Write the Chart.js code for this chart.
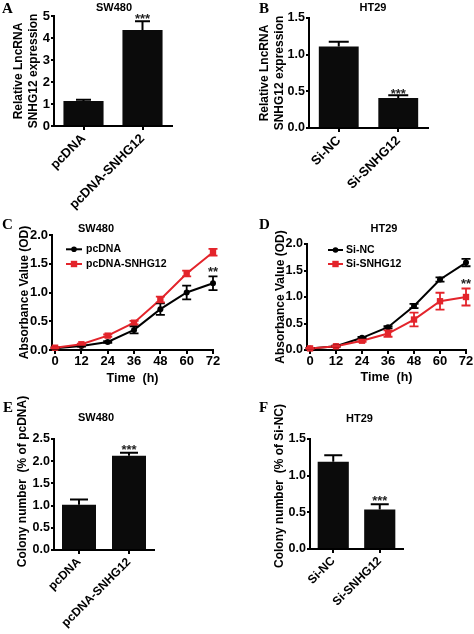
<!DOCTYPE html>
<html><head><meta charset="utf-8">
<script src="https://cdn.jsdelivr.net/npm/chart.js@4.4.0/dist/chart.umd.min.js"></script>
<style>
html,body{margin:0;padding:0;background:#fff;width:474px;height:634px;overflow:hidden;}
canvas{position:absolute;}
</style></head><body>
<canvas id="cA" width="237" height="215" style="left:0;top:0"></canvas>
<canvas id="cB" width="237" height="215" style="left:237px;top:0"></canvas>
<canvas id="cC" width="237" height="180" style="left:0;top:215px"></canvas>
<canvas id="cD" width="237" height="180" style="left:237px;top:215px"></canvas>
<canvas id="cE" width="237" height="239" style="left:0;top:395px"></canvas>
<canvas id="cF" width="237" height="239" style="left:237px;top:395px"></canvas>
<script>
// ---------- data ----------
const catsPc = ['pcDNA', 'pcDNA-SNHG12'];
const catsSi = ['Si-NC', 'Si-SNHG12'];
const exprSW480 = [1.14, 4.36];
const exprSW480Err = [0.05, 0.40];
const exprHT29 = [1.11, 0.41];
const exprHT29Err = [0.065, 0.035];
const timeTicks = [0, 12, 24, 36, 48, 60, 72];
const odPcDNA = [0.03, 0.07, 0.14, 0.35, 0.71, 1.00, 1.16];
const odPcDNAErr = [0.01, 0.01, 0.015, 0.06, 0.10, 0.12, 0.12];
const odPcSNHG = [0.04, 0.10, 0.25, 0.475, 0.88, 1.33, 1.70];
const odPcSNHGErr = [0.01, 0.01, 0.02, 0.03, 0.05, 0.05, 0.06];
const odSiNC = [0.03, 0.07, 0.23, 0.43, 0.83, 1.33, 1.65];
const odSiNCErr = [0.01, 0.01, 0.015, 0.02, 0.04, 0.04, 0.07];
const odSiSNHG = [0.03, 0.07, 0.175, 0.31, 0.575, 0.92, 1.00];
const odSiSNHGErr = [0.01, 0.01, 0.02, 0.06, 0.13, 0.16, 0.16];
const colonySW480 = [1.02, 2.12];
const colonySW480Err = [0.12, 0.07];
const colonyHT29 = [1.19, 0.54];
const colonyHT29Err = [0.09, 0.07];

// ---------- helpers ----------
const FONT = "'Liberation Sans', Arial, Helvetica, sans-serif";
const SERIF = "'Liberation Serif', 'Times New Roman', serif";
const RED = '#e3242b';
Chart.defaults.font.family = FONT;
Chart.defaults.color = '#000';

function valOf(raw) { return (raw !== null && typeof raw === 'object') ? raw.y : raw; }

const errorBarPlugin = {
  id: 'errorBars',
  afterDatasetsDraw(chart) {
    const ctx = chart.ctx, ys = chart.scales.y;
    chart.data.datasets.forEach((ds, i) => {
      if (!ds.errorBars) return;
      const meta = chart.getDatasetMeta(i);
      ctx.save();
      ctx.strokeStyle = ds.errorColor || '#000';
      ctx.lineWidth = ds.errorWidth || 2;
      meta.data.forEach((el, j) => {
        const v = valOf(ds.data[j]);
        const e = ds.errorBars[j];
        const x = el.x;
        const yt = ys.getPixelForValue(v + e);
        const yb = ds.errorUpOnly ? ys.getPixelForValue(v) : ys.getPixelForValue(v - e);
        const c = ds.capHalf || 4;
        ctx.beginPath();
        ctx.moveTo(x, yb); ctx.lineTo(x, yt);
        ctx.moveTo(x - c, yt); ctx.lineTo(x + c, yt);
        if (!ds.errorUpOnly) { ctx.moveTo(x - c, yb); ctx.lineTo(x + c, yb); }
        ctx.stroke();
      });
      ctx.restore();
    });
  }
};

function makeDecor(d) {
  return {
    id: 'decor',
    afterDraw(chart) {
      const ctx = chart.ctx;
      ctx.save();
      ctx.fillStyle = '#000';
      // panel letter
      ctx.font = `bold 15px ${SERIF}`;
      ctx.textAlign = 'left'; ctx.textBaseline = 'alphabetic';
      ctx.fillText(d.letter, d.letterX, d.letterY);
      // panel title
      ctx.font = `bold ${d.titleSize}px ${FONT}`;
      ctx.textAlign = 'center'; ctx.textBaseline = 'middle';
      ctx.fillText(d.title, d.titleX, d.titleY);
      // significance stars
      if (d.stars) {
        const s = d.stars;
        const ds = chart.data.datasets[s.ds];
        const el = chart.getDatasetMeta(s.ds).data[s.idx];
        const top = chart.scales.y.getPixelForValue(valOf(ds.data[s.idx]) + ds.errorBars[s.idx]);
        ctx.font = `bold ${s.size}px ${FONT}`;
        ctx.fillStyle = '#222';
        ctx.textAlign = 'center'; ctx.textBaseline = 'alphabetic';
        ctx.fillText(s.text, el.x, top - s.gap + 0.58 * s.size);
        ctx.fillStyle = '#000';
      }
      // legend
      if (d.legend) {
        const L = d.legend;
        chart.data.datasets.forEach((ds, i) => {
          const y = L.rows[i];
          ctx.strokeStyle = ds.borderColor; ctx.lineWidth = 2;
          ctx.beginPath(); ctx.moveTo(L.x1, y); ctx.lineTo(L.x2, y); ctx.stroke();
          const mx = (L.x1 + L.x2) / 2;
          ctx.fillStyle = ds.borderColor;
          if (ds.pointStyle === 'rect') { ctx.fillRect(mx - 3.2, y - 3.2, 6.4, 6.4); }
          else { ctx.beginPath(); ctx.arc(mx, y, 2.8, 0, Math.PI * 2); ctx.fill(); }
          ctx.fillStyle = '#000';
          ctx.font = `bold ${L.size}px ${FONT}`;
          ctx.textAlign = 'left'; ctx.textBaseline = 'middle';
          ctx.fillText(ds.label, L.xText, y);
        });
      }
      // free y title
      if (d.yTitle) {
        const t = d.yTitle;
        ctx.translate(t.x, t.y); ctx.rotate(-Math.PI / 2);
        ctx.font = `bold ${t.size}px ${FONT}`;
        ctx.textAlign = 'center'; ctx.textBaseline = 'middle';
        ctx.fillText(t.text, 0, 0);
      }
      ctx.restore();
    }
  };
}

function axisGrid(len) {
  return { drawOnChartArea: false, drawTicks: true, tickLength: len, color: '#000', lineWidth: 2 };
}
const axisBorder = { display: true, color: '#000', width: 2 };

function barPanel(id, p) {
  const W = p.w, H = p.h, a = p.area;
  return new Chart(document.getElementById(id), {
    type: 'bar',
    data: { labels: p.cats, datasets: [{
      data: p.vals, errorBars: p.errs, errorUpOnly: true, capHalf: p.cap,
      backgroundColor: '#0b0b0b', borderWidth: 0, barPercentage: p.barPct, categoryPercentage: 1
    }] },
    options: {
      responsive: false, animation: false, events: [],
      layout: { padding: { left: 0, top: a.top, right: W - a.right, bottom: 0 } },
      plugins: { legend: { display: false }, tooltip: { enabled: false }, title: { display: false } },
      scales: {
        x: {
          grid: Object.assign(axisGrid(4), { offset: false }),
          border: axisBorder,
          ticks: { color: '#000', autoSkip: false, minRotation: 45, maxRotation: 45, padding: 1,
                   font: { family: FONT, weight: 'bold', size: p.xFont } },
          afterFit: s => { s.height = H - a.bottom; }
        },
        y: {
          min: 0, max: p.yMax,
          grid: axisGrid(3),
          border: axisBorder,
          ticks: { stepSize: p.yStep, color: '#000', padding: 1,
                   font: { family: FONT, weight: 'bold', size: p.yFont },
                   callback: v => Number(v).toFixed(p.dec) },
          title: p.yTitle ? { display: true, text: p.yTitle, color: '#000',
                   font: { family: FONT, weight: 'bold', size: 12, lineHeight: 1.25 },
                   padding: { top: p.yTitlePad, bottom: 0 } } : { display: false },
          afterFit: s => { s.width = a.left; }
        }
      }
    },
    plugins: [errorBarPlugin, makeDecor(p.decor)]
  });
}

function linePanel(id, p) {
  const W = p.w, H = p.h, a = p.area;
  const mk = (label, vals, errs, color, style, order) => ({
    label, data: timeTicks.map((t, k) => ({ x: t, y: vals[k] })),
    errorBars: errs, errorColor: color, errorWidth: 1.8, capHalf: 4.5,
    borderColor: color, backgroundColor: color, borderWidth: 2, tension: 0,
    pointStyle: style, pointRadius: style === 'rect' ? 4.5 : 3, pointBorderWidth: 0,
    pointBackgroundColor: color, clip: false, order
  });
  return new Chart(document.getElementById(id), {
    type: 'line',
    data: { datasets: [
      mk(p.names[0], p.s1, p.e1, '#000', 'circle', 1),
      mk(p.names[1], p.s2, p.e2, RED, 'rect', 0)
    ] },
    options: {
      responsive: false, animation: false, events: [],
      layout: { padding: { left: 0, top: a.top, right: W - a.right, bottom: 0 } },
      plugins: { legend: { display: false }, tooltip: { enabled: false }, title: { display: false } },
      scales: {
        x: {
          type: 'linear', min: -1.4, max: 72,
          afterBuildTicks: s => { s.ticks = timeTicks.map(v => ({ value: v })); },
          grid: axisGrid(4),
          border: axisBorder,
          ticks: { color: '#000', autoSkip: false, maxRotation: 0, padding: 0,
                   font: { family: FONT, weight: 'bold', size: 13 } },
          title: { display: true, text: 'Time  (h)', color: '#000',
                   font: { family: FONT, weight: 'bold', size: 12.5, lineHeight: 1.2 },
                   padding: { top: 0, bottom: p.xTitlePad } },
          afterFit: s => { s.height = H - a.bottom; }
        },
        y: {
          min: 0, max: 2,
          grid: axisGrid(3),
          border: axisBorder,
          ticks: { stepSize: 0.5, color: '#000', padding: 1,
                   font: { family: FONT, weight: 'bold', size: p.yFont },
                   callback: v => Number(v).toFixed(1) },
          title: { display: true, text: 'Absorbance Value (OD)', color: '#000',
                   font: { family: FONT, weight: 'bold', size: 12, lineHeight: 1.2 },
                   padding: { top: p.yTitlePad, bottom: 0 } },
          afterFit: s => { s.width = a.left; }
        }
      }
    },
    plugins: [errorBarPlugin, makeDecor(p.decor)]
  });
}

// ---------- panels ----------
barPanel('cA', {
  w: 237, h: 215, area: { left: 54, right: 172, top: 16, bottom: 126 },
  cats: catsPc, vals: exprSW480, errs: exprSW480Err, cap: 7.5, barPct: 0.68,
  yMax: 5, yStep: 1, dec: 0, xFont: 13, yFont: 13,
  yTitle: ['Relative LncRNA', 'SNHG12 expression'], yTitlePad: 11.5,
  decor: { letter: 'A', letterX: 2, letterY: 13, title: 'SW480', titleSize: 11, titleX: 114, titleY: 7.5,
           stars: { ds: 0, idx: 1, gap: 5.7, text: '***', size: 13 } }
});
barPanel('cB', {
  w: 237, h: 215, area: { left: 72, right: 191, top: 18, bottom: 128 },
  cats: catsSi, vals: exprHT29, errs: exprHT29Err, cap: 10, barPct: 0.67,
  yMax: 1.5, yStep: 0.5, dec: 1, xFont: 13, yFont: 12.5,
  yTitle: ['Relative LncRNA', 'SNHG12 expression'], yTitlePad: 20.5,
  decor: { letter: 'B', letterX: 22, letterY: 13, title: 'HT29', titleSize: 11, titleX: 136, titleY: 8,
           stars: { ds: 0, idx: 1, gap: 4.5, text: '***', size: 13 } }
});
linePanel('cC', {
  w: 237, h: 180, area: { left: 52, right: 213, top: 20, bottom: 135 },
  names: ['pcDNA', 'pcDNA-SNHG12'], s1: odPcDNA, e1: odPcDNAErr, s2: odPcSNHG, e2: odPcSNHGErr,
  yFont: 13, yTitlePad: 17.8, xTitlePad: 8.8,
  decor: { letter: 'C', letterX: 2, letterY: 13.5, title: 'SW480', titleSize: 11, titleX: 96, titleY: 13.5,
           stars: { ds: 0, idx: 6, gap: 7.7, text: '**', size: 13 },
           legend: { x1: 66, x2: 82, xText: 86, rows: [34.3, 49], size: 10.5 } }
});
linePanel('cD', {
  w: 237, h: 180, area: { left: 70, right: 229, top: 29, bottom: 135 },
  names: ['Si-NC', 'Si-SNHG12'], s1: odSiNC, e1: odSiNCErr, s2: odSiSNHG, e2: odSiSNHGErr,
  yFont: 12.5, yTitlePad: 36, xTitlePad: 9.5,
  decor: { letter: 'D', letterX: 22, letterY: 13.5, title: 'HT29', titleSize: 11, titleX: 147, titleY: 14,
           stars: { ds: 1, idx: 6, gap: 8.3, text: '**', size: 13 },
           legend: { x1: 91, x2: 106, xText: 109, rows: [35, 49], size: 10.5 } }
});
barPanel('cE', {
  w: 237, h: 239, area: { left: 54, right: 154, top: 44, bottom: 155 },
  cats: catsPc, vals: colonySW480, errs: colonySW480Err, cap: 9, barPct: 0.68,
  yMax: 2.5, yStep: 0.5, dec: 1, xFont: 12, yFont: 12.5,
  yTitle: null,
  decor: { letter: 'E', letterX: 3, letterY: 17.3, title: 'SW480', titleSize: 11, titleX: 96, titleY: 22.5,
           stars: { ds: 0, idx: 1, gap: 6, text: '***', size: 13 },
           yTitle: { text: 'Colony number  (% of pcDNA)', x: 23, y: 86.5, size: 12 } }
});
barPanel('cF', {
  w: 237, h: 239, area: { left: 73, right: 166, top: 44, bottom: 154 },
  cats: catsSi, vals: colonyHT29, errs: colonyHT29Err, cap: 9, barPct: 0.67,
  yMax: 1.5, yStep: 0.5, dec: 1, xFont: 12, yFont: 12.5,
  yTitle: null,
  decor: { letter: 'F', letterX: 22, letterY: 17, title: 'HT29', titleSize: 11, titleX: 122.5, titleY: 24,
           stars: { ds: 0, idx: 1, gap: 7, text: '***', size: 13 },
           yTitle: { text: 'Colony number  (% of Si-NC)', x: 43, y: 91, size: 12 } }
});
</script>
</body></html>
